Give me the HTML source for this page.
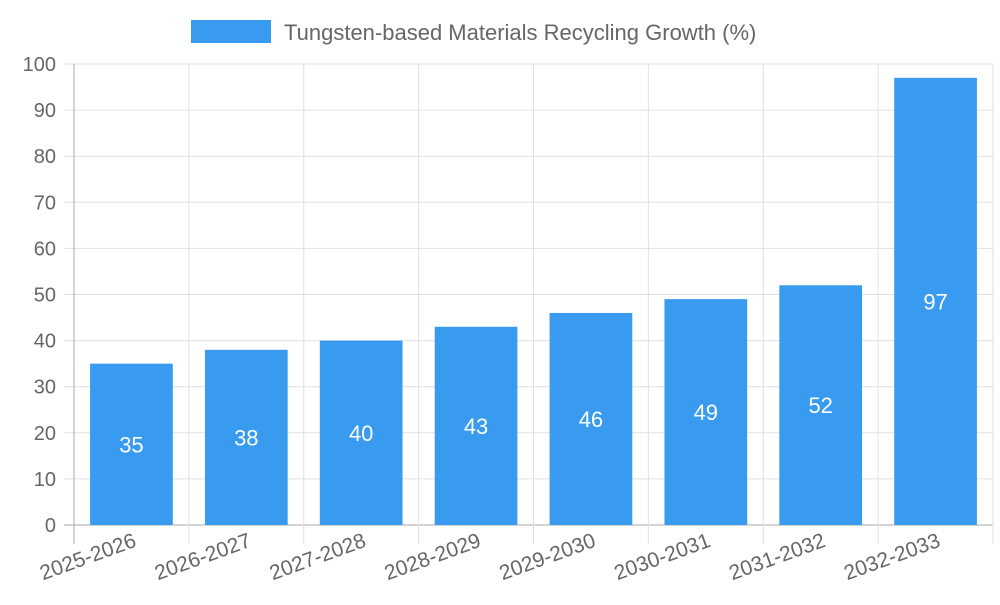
<!DOCTYPE html>
<html><head><meta charset="utf-8"><style>
body{margin:0;background:#fff;}
svg text{font-family:"Liberation Sans",sans-serif;}
</style></head><body>
<svg width="1000" height="600">
<g id="legend">
<rect x="191" y="20" width="80" height="23" fill="#389bf0"/>
<text x="284" y="40" font-size="22" fill="#666">Tungsten-based Materials Recycling Growth (%)</text>
</g>
<g id="grid"></g><g id="bars"></g><g id="labels"></g>
</svg>
<script>
const categories=["2025-2026","2026-2027","2027-2028","2028-2029","2029-2030","2030-2031","2031-2032","2032-2033"];
const values=[35,38,40,43,46,49,52,97];
const yTicks=[0,10,20,30,40,50,60,70,80,90,100];
const NS="http://www.w3.org/2000/svg";
const L=74,R=993,T=64,B=525;
const cw=(R-L)/categories.length;
const y=v=>B-(v/100)*(B-T);
const x=i=>L+i*cw;
function mk(t,a,p){const e=document.createElementNS(NS,t);for(const k in a)e.setAttribute(k,a[k]);p.appendChild(e);return e;}
const g=document.getElementById('grid'),b=document.getElementById('bars'),lb=document.getElementById('labels');
yTicks.forEach(v=>{
 const ln=mk('line',{x1:64,x2:R,y1:y(v),y2:y(v),stroke:v===0?'#aaa':'#e0e0e0','stroke-width':1},g);
 
 
 const t=mk('text',{x:56,y:y(v)+7,'text-anchor':'end','font-size':20,fill:'#666'},g);
 t.textContent=v;
 
 
});
for(let i=0;i<=categories.length;i++){
 const ln=mk('line',{x1:x(i),x2:x(i),y1:T,y2:544,stroke:i===0?'#aaa':'#e0e0e0','stroke-width':1},g);
 
 
}
categories.forEach((c,i)=>{
 const bw=cw*0.72,bx=x(i)+(cw-bw)/2;
 const r=mk('rect',{x:bx,y:y(values[i]),width:bw,height:B-y(values[i]),fill:'#389bf0'},b);
 
 
 const t=mk('text',{x:bx+bw/2,y:(y(values[i])+B)/2+8,'text-anchor':'middle','font-size':22,fill:'#fff'},lb);
 t.textContent=values[i];
 
 
 const cx=x(i)+cw/2+6;
 const xl=mk('text',{x:cx,y:546,'text-anchor':'end','font-size':21,fill:'#666',transform:`rotate(-20 ${cx} 546)`},lb);
 xl.textContent=c;
 
 
});
</script>
</body></html>
